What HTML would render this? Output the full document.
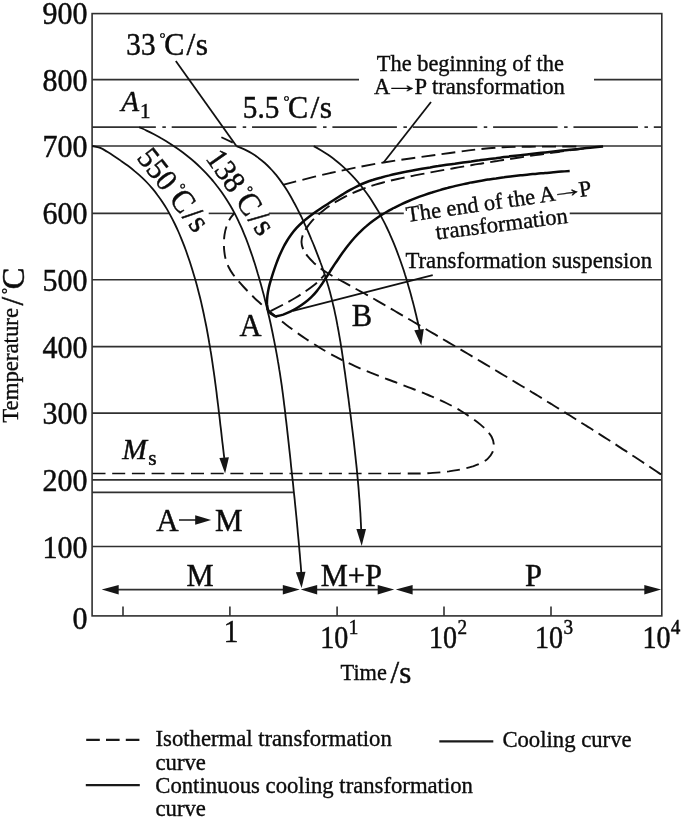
<!DOCTYPE html><html><head><meta charset="utf-8"><title>CCT diagram</title>
<style>html,body{margin:0;padding:0;background:#fff}body{width:685px;height:820px;overflow:hidden}svg{display:block;filter:blur(0.5px)}text{font-family:"Liberation Serif","Noto Serif CJK SC",serif;fill:#0c0c0c;stroke:#0c0c0c;stroke-width:0.45px}.s,.s text{stroke-width:0.36px}</style></head><body>
<svg width="685" height="820" viewBox="0 0 685 820">
<rect width="685" height="820" fill="#fff"/>
<g fill="none" stroke="#303030" stroke-width="1.6">
<rect x="92.1" y="13.6" width="569.7" height="602.3"/>
<line x1="92.1" y1="79.6" x2="359.0" y2="79.6"/>
<line x1="594.0" y1="79.6" x2="661.8" y2="79.6"/>
<line x1="92.1" y1="146.0" x2="661.8" y2="146.0"/>
<line x1="92.1" y1="213.4" x2="169.0" y2="213.4"/>
<line x1="208.7" y1="213.4" x2="234.6" y2="213.4"/>
<line x1="268.9" y1="213.4" x2="403.8" y2="213.4"/>
<line x1="569.7" y1="213.4" x2="661.8" y2="213.4"/>
<line x1="92.1" y1="279.8" x2="661.8" y2="279.8"/>
<line x1="92.1" y1="346.6" x2="661.8" y2="346.6"/>
<line x1="92.1" y1="413.1" x2="661.8" y2="413.1"/>
<line x1="92.1" y1="479.9" x2="661.8" y2="479.9"/>
<line x1="92.1" y1="546.5" x2="661.8" y2="546.5"/>
<line x1="92.1" y1="127.1" x2="661.8" y2="127.1" stroke-dasharray="64.5 6.5 3.5 5.85" stroke-dashoffset="0.75"/>
<line x1="92.1" y1="492.4" x2="293.3" y2="492.4"/>
<line x1="123.0" y1="606.5" x2="123.0" y2="615.9"/>
<line x1="229.9" y1="606.5" x2="229.9" y2="615.9"/>
<line x1="337.1" y1="606.5" x2="337.1" y2="615.9"/>
<line x1="444.0" y1="606.5" x2="444.0" y2="615.9"/>
<line x1="551.0" y1="606.5" x2="551.0" y2="615.9"/>
</g><g fill="none" stroke="#111" stroke-width="1.8">
<path d="M92.1,146.0 C93.5,146.3 97.7,147.0 100.3,147.9 C102.8,148.9 104.9,150.4 107.3,151.8 C109.6,153.2 111.9,154.7 114.2,156.2 C116.5,157.7 118.8,159.2 121.1,160.9 C123.4,162.5 125.7,164.1 128.0,165.8 C130.2,167.5 132.5,169.3 134.6,171.1 C136.8,172.9 139.0,174.7 141.0,176.6 C143.1,178.5 145.1,180.5 147.0,182.5 C148.9,184.5 150.7,186.6 152.5,188.7 C154.3,190.8 156.0,193.0 157.6,195.2 C159.3,197.4 160.9,199.7 162.4,202.0 C163.9,204.2 165.4,206.6 166.8,208.9 C168.2,211.3 169.5,213.7 170.8,216.1 C172.1,218.5 173.4,221.0 174.6,223.5 C175.8,226.0 177.0,228.5 178.1,231.0 C179.2,233.5 180.3,236.1 181.3,238.6 C182.4,241.2 183.4,243.8 184.4,246.4 C185.3,248.9 186.3,251.5 187.2,254.2 C188.1,256.8 189.0,259.4 189.9,262.0 C190.7,264.6 191.6,267.3 192.4,269.9 C193.2,272.6 194.0,275.2 194.8,277.9 C195.5,280.5 196.3,283.2 197.0,285.8 C197.7,288.5 198.4,291.2 199.1,293.9 C199.8,296.5 200.4,299.2 201.1,301.9 C201.7,304.6 202.3,307.3 202.9,310.0 C203.5,312.7 204.1,315.4 204.6,318.1 C205.2,320.9 205.7,323.6 206.3,326.3 C206.8,329.0 207.3,331.7 207.8,334.5 C208.3,337.2 208.8,339.9 209.2,342.7 C209.7,345.4 210.2,348.1 210.6,350.9 C211.1,353.6 211.5,356.4 211.9,359.1 C212.3,361.8 212.7,364.6 213.1,367.3 C213.5,370.1 213.9,372.8 214.3,375.6 C214.7,378.3 215.0,381.1 215.4,383.9 C215.8,386.6 216.1,389.4 216.5,392.1 C216.8,394.9 217.1,397.6 217.5,400.4 C217.8,403.1 218.2,405.9 218.5,408.6 C218.8,411.4 219.1,414.1 219.5,416.9 C219.8,419.6 220.1,422.4 220.4,425.1 C220.8,427.9 221.1,430.6 221.4,433.4 C221.7,436.1 222.0,438.9 222.3,441.6 C222.7,444.3 223.0,447.1 223.3,449.8 C223.6,452.5 224.1,456.6 224.3,458.0"/>
<path d="M139.2,127.1 C140.4,127.7 144.2,129.4 146.6,130.6 C149.1,131.8 151.5,133.0 154.0,134.3 C156.4,135.6 158.8,136.9 161.2,138.3 C163.6,139.6 165.9,141.1 168.2,142.5 C170.6,144.0 172.9,145.5 175.1,147.0 C177.4,148.5 179.7,150.1 181.9,151.7 C184.1,153.4 186.2,155.0 188.3,156.8 C190.5,158.5 192.5,160.2 194.6,162.0 C196.6,163.8 198.6,165.7 200.6,167.6 C202.5,169.5 204.4,171.4 206.3,173.4 C208.1,175.4 209.9,177.4 211.7,179.4 C213.4,181.5 215.2,183.6 216.8,185.7 C218.5,187.8 220.1,190.0 221.7,192.2 C223.2,194.4 224.7,196.6 226.2,198.9 C227.7,201.2 229.1,203.5 230.4,205.8 C231.8,208.2 233.1,210.5 234.4,212.9 C235.6,215.3 236.9,217.8 238.0,220.2 C239.2,222.7 240.4,225.1 241.5,227.6 C242.6,230.1 243.6,232.6 244.6,235.2 C245.7,237.7 246.7,240.3 247.6,242.8 C248.6,245.4 249.5,248.0 250.4,250.6 C251.3,253.1 252.2,255.8 253.1,258.4 C253.9,261.0 254.8,263.6 255.6,266.2 C256.4,268.8 257.2,271.5 257.9,274.1 C258.7,276.7 259.5,279.4 260.2,282.0 C261.0,284.6 261.7,287.3 262.4,289.9 C263.1,292.5 263.8,295.2 264.5,297.8 C265.1,300.5 265.8,303.1 266.4,305.8 C267.1,308.4 267.7,311.1 268.3,313.7 C269.0,316.4 269.6,319.0 270.2,321.7 C270.8,324.3 271.3,327.0 271.9,329.7 C272.5,332.3 273.0,335.0 273.5,337.6 C274.1,340.3 274.6,343.0 275.1,345.6 C275.6,348.3 276.1,351.0 276.6,353.6 C277.1,356.3 277.6,359.0 278.0,361.7 C278.5,364.3 278.9,367.0 279.3,369.7 C279.8,372.4 280.2,375.1 280.6,377.8 C281.0,380.5 281.4,383.2 281.8,385.9 C282.1,388.5 282.5,391.2 282.9,394.0 C283.2,396.7 283.6,399.4 283.9,402.1 C284.2,404.8 284.6,407.5 284.9,410.2 C285.2,412.9 285.5,415.6 285.8,418.3 C286.2,421.0 286.5,423.7 286.8,426.5 C287.1,429.2 287.4,431.9 287.7,434.6 C288.0,437.3 288.3,440.0 288.6,442.7 C288.9,445.5 289.2,448.2 289.5,450.9 C289.8,453.6 290.1,456.3 290.4,459.0 C290.7,461.7 290.9,464.4 291.2,467.2 C291.5,469.9 291.8,472.6 292.1,475.3 C292.4,478.0 292.7,480.7 293.0,483.4 C293.3,486.1 293.5,488.9 293.8,491.6 C294.1,494.3 294.4,497.0 294.7,499.7 C294.9,502.4 295.2,505.1 295.5,507.8 C295.8,510.6 296.0,513.3 296.3,516.0 C296.6,518.7 296.8,521.4 297.1,524.1 C297.3,526.8 297.6,529.6 297.8,532.3 C298.1,535.0 298.3,537.7 298.6,540.4 C298.8,543.1 299.1,545.8 299.3,548.6 C299.5,551.3 299.8,554.0 300.0,556.7 C300.2,559.4 300.4,562.1 300.7,564.8 C300.9,567.6 301.2,571.6 301.3,573.0"/>
<path d="M175.8,61 L236.4,146.1"/>
<path d="M236.4,146.1 C237.7,146.6 241.8,148.2 244.4,149.4 C246.9,150.6 249.4,151.9 251.7,153.3 C254.1,154.7 256.4,156.3 258.5,157.9 C260.7,159.5 262.8,161.2 264.8,163.0 C266.8,164.8 268.7,166.7 270.5,168.6 C272.4,170.5 274.1,172.6 275.9,174.6 C277.6,176.7 279.2,178.9 280.8,181.1 C282.4,183.3 283.9,185.5 285.4,187.8 C286.9,190.1 288.3,192.4 289.7,194.8 C291.1,197.2 292.4,199.6 293.7,202.0 C295.1,204.4 296.3,206.8 297.6,209.3 C298.8,211.8 300.1,214.2 301.3,216.7 C302.5,219.2 303.6,221.7 304.8,224.3 C305.9,226.8 307.1,229.3 308.2,231.8 C309.3,234.4 310.4,236.9 311.4,239.5 C312.5,242.0 313.6,244.5 314.6,247.1 C315.6,249.6 316.6,252.2 317.6,254.8 C318.6,257.3 319.6,259.9 320.5,262.5 C321.5,265.0 322.4,267.6 323.3,270.2 C324.1,272.8 325.0,275.4 325.8,278.0 C326.7,280.6 327.4,283.2 328.2,285.8 C329.0,288.4 329.7,291.1 330.4,293.7 C331.1,296.3 331.8,299.0 332.4,301.6 C333.0,304.3 333.7,307.0 334.3,309.6 C334.8,312.3 335.4,315.0 336.0,317.6 C336.5,320.3 337.0,323.0 337.5,325.7 C338.1,328.4 338.5,331.1 339.0,333.8 C339.5,336.5 339.9,339.2 340.4,341.9 C340.8,344.6 341.2,347.3 341.7,350.0 C342.1,352.7 342.5,355.5 342.9,358.2 C343.3,360.9 343.7,363.6 344.0,366.3 C344.4,369.1 344.8,371.8 345.2,374.5 C345.5,377.2 345.9,379.9 346.3,382.7 C346.6,385.4 347.0,388.1 347.4,390.8 C347.7,393.6 348.1,396.3 348.5,399.0 C348.8,401.7 349.2,404.5 349.5,407.2 C349.9,409.9 350.2,412.6 350.6,415.3 C350.9,418.1 351.3,420.8 351.6,423.5 C351.9,426.2 352.3,429.0 352.6,431.7 C352.9,434.4 353.3,437.1 353.6,439.9 C353.9,442.6 354.2,445.3 354.5,448.0 C354.8,450.8 355.1,453.5 355.4,456.2 C355.7,458.9 356.0,461.7 356.3,464.4 C356.6,467.1 356.9,469.8 357.1,472.6 C357.4,475.3 357.6,478.0 357.9,480.8 C358.1,483.5 358.4,486.2 358.6,488.9 C358.8,491.7 359.0,494.4 359.2,497.1 C359.5,499.9 359.7,502.6 359.8,505.3 C360.0,508.1 360.2,510.8 360.4,513.6 C360.5,516.3 360.7,519.0 360.8,521.8 C361.0,524.5 361.1,528.6 361.2,530.0"/>
<path d="M313.7,146.1 C315.0,146.8 318.8,148.9 321.3,150.4 C323.8,151.9 326.2,153.5 328.5,155.1 C330.9,156.8 333.2,158.4 335.4,160.2 C337.6,161.9 339.8,163.7 341.9,165.6 C344.0,167.5 346.0,169.4 348.0,171.3 C350.0,173.3 352.0,175.3 353.8,177.4 C355.7,179.4 357.5,181.6 359.3,183.7 C361.1,185.9 362.8,188.1 364.5,190.3 C366.2,192.5 367.8,194.8 369.4,197.1 C371.0,199.4 372.5,201.8 374.0,204.2 C375.5,206.6 377.0,209.0 378.4,211.4 C379.8,213.9 381.1,216.4 382.4,218.9 C383.8,221.4 385.0,223.9 386.3,226.5 C387.5,229.1 388.7,231.7 389.9,234.3 C391.1,236.9 392.2,239.5 393.3,242.1 C394.4,244.8 395.5,247.5 396.5,250.1 C397.5,252.8 398.5,255.5 399.5,258.2 C400.5,260.9 401.4,263.6 402.3,266.3 C403.3,269.1 404.2,271.8 405.0,274.5 C405.9,277.3 406.7,280.0 407.5,282.8 C408.3,285.5 409.1,288.3 409.9,291.0 C410.7,293.8 411.4,296.5 412.1,299.3 C412.9,302.0 413.6,304.8 414.3,307.5 C414.9,310.2 415.6,313.0 416.3,315.7 C416.9,318.5 417.6,321.2 418.2,323.9 C418.8,326.6 419.7,330.6 420.0,332.0"/>
<line x1="293" y1="310.9" x2="432.7" y2="275.2"/>
<line x1="431" y1="102" x2="383.6" y2="162.5"/>
<path d="M221.4,137.3 L232.8,142.6"/>
</g>
<polygon points="225.1,473.6 219.4,457.9 228.9,457.3" fill="#161616"/>
<polygon points="301.6,587.9 295.9,572.2 305.5,571.7" fill="#161616"/>
<polygon points="361.7,546.0 356.4,529.1 366.0,528.9" fill="#161616"/>
<polygon points="421.3,345.5 414.3,330.3 423.8,329.0" fill="#161616"/>
<g fill="none" stroke="#0a0a0a" stroke-width="2.5" stroke-linejoin="round">
<path d="M275.4,316.5 C274.3,315.7 270.4,313.8 269.0,311.8 C267.6,309.7 267.3,306.9 267.0,304.2 C266.8,301.6 267.1,298.6 267.4,295.9 C267.7,293.2 268.2,290.4 268.8,287.7 C269.4,285.0 270.2,282.3 271.0,279.7 C271.8,277.0 272.6,274.3 273.5,271.6 C274.4,269.0 275.3,266.3 276.3,263.6 C277.3,261.0 278.3,258.4 279.4,255.8 C280.5,253.2 281.7,250.7 282.9,248.2 C284.1,245.7 285.5,243.3 286.9,241.0 C288.3,238.6 289.8,236.4 291.4,234.2 C293.0,232.0 294.8,229.9 296.6,227.9 C298.4,225.9 300.4,224.0 302.4,222.2 C304.5,220.4 306.6,218.7 308.8,217.0 C311.0,215.3 313.2,213.6 315.5,212.0 C317.8,210.4 320.1,208.9 322.5,207.3 C324.8,205.8 327.2,204.3 329.5,202.7 C331.9,201.2 334.2,199.7 336.5,198.2 C338.9,196.7 341.2,195.2 343.6,193.8 C346.0,192.3 348.3,190.9 350.7,189.6 C353.1,188.3 355.6,187.0 358.0,185.8 C360.5,184.6 363.0,183.5 365.6,182.5 C368.1,181.5 370.7,180.6 373.4,179.8 C376.0,178.9 378.7,178.2 381.4,177.5 C384.0,176.7 386.7,176.0 389.4,175.4 C392.1,174.7 394.8,174.1 397.5,173.5 C400.2,172.9 402.9,172.3 405.6,171.8 C408.3,171.2 411.1,170.7 413.8,170.2 C416.5,169.7 419.2,169.2 421.9,168.7 C424.7,168.2 427.4,167.8 430.1,167.4 C432.9,166.9 435.6,166.5 438.3,166.1 C441.1,165.6 443.8,165.2 446.6,164.8 C449.3,164.4 452.0,164.0 454.8,163.7 C457.5,163.3 460.2,162.9 463.0,162.5 C465.7,162.1 468.5,161.7 471.2,161.4 C473.9,161.0 476.7,160.6 479.4,160.3 C482.2,159.9 484.9,159.6 487.7,159.2 C490.4,158.9 493.1,158.5 495.9,158.2 C498.6,157.8 501.4,157.5 504.1,157.1 C506.9,156.8 509.6,156.5 512.4,156.1 C515.1,155.8 517.8,155.5 520.6,155.2 C523.3,154.9 526.1,154.5 528.8,154.2 C531.6,153.9 534.3,153.6 537.1,153.3 C539.8,153.0 542.6,152.7 545.3,152.4 C548.1,152.1 550.8,151.8 553.6,151.5 C556.3,151.2 559.1,150.9 561.8,150.6 C564.6,150.3 567.3,150.0 570.1,149.7 C572.8,149.5 575.6,149.2 578.3,148.9 C581.1,148.6 583.8,148.3 586.6,148.0 C589.3,147.8 592.1,147.5 594.8,147.2 C597.6,146.9 601.7,146.5 603.1,146.4"/>
<path d="M275.4,316.5 C276.7,316.2 280.6,315.4 283.2,314.6 C285.8,313.7 288.3,312.6 290.8,311.4 C293.3,310.2 295.8,308.8 298.1,307.3 C300.5,305.8 302.8,304.2 305.0,302.5 C307.2,300.8 309.4,299.0 311.3,297.1 C313.3,295.2 315.1,293.2 316.8,291.1 C318.5,289.0 320.0,286.8 321.6,284.6 C323.1,282.4 324.5,280.1 326.0,277.8 C327.5,275.5 329.0,273.2 330.4,270.8 C331.9,268.5 333.4,266.2 334.9,263.9 C336.5,261.6 338.0,259.3 339.6,257.0 C341.1,254.8 342.7,252.5 344.4,250.3 C346.0,248.1 347.7,245.9 349.4,243.8 C351.1,241.6 352.9,239.5 354.7,237.5 C356.5,235.5 358.4,233.5 360.4,231.6 C362.3,229.7 364.3,227.8 366.4,226.1 C368.5,224.3 370.6,222.6 372.8,221.0 C375.0,219.4 377.2,217.8 379.5,216.3 C381.8,214.8 384.1,213.4 386.5,212.0 C388.8,210.6 391.3,209.3 393.7,208.0 C396.1,206.8 398.6,205.5 401.1,204.4 C403.6,203.2 406.1,202.1 408.7,201.0 C411.2,199.9 413.8,198.9 416.4,197.9 C418.9,196.9 421.5,196.0 424.1,195.1 C426.7,194.2 429.3,193.3 431.9,192.5 C434.5,191.6 437.2,190.8 439.8,190.1 C442.4,189.3 445.1,188.6 447.7,187.9 C450.4,187.2 453.0,186.5 455.7,185.9 C458.3,185.3 461.0,184.7 463.7,184.1 C466.3,183.5 469.0,183.0 471.7,182.4 C474.4,181.9 477.1,181.4 479.8,180.9 C482.5,180.5 485.2,180.0 487.9,179.6 C490.6,179.2 493.3,178.7 496.0,178.4 C498.7,178.0 501.4,177.6 504.1,177.3 C506.9,176.9 509.6,176.6 512.3,176.2 C515.0,175.9 517.8,175.6 520.5,175.3 C523.2,175.0 526.0,174.8 528.7,174.5 C531.4,174.2 534.2,174.0 536.9,173.7 C539.6,173.5 542.4,173.2 545.1,173.0 C547.8,172.8 550.6,172.5 553.3,172.3 C556.0,172.1 558.8,171.9 561.5,171.6 C564.2,171.4 568.3,171.1 569.7,171.0"/>
</g>
<g fill="none" stroke="#111" stroke-width="1.9" stroke-dasharray="14 6.2">
<path d="M282.9,184.8 C290.8,182.9 313.2,176.8 330.0,173.1 C346.8,169.4 363.6,165.8 383.6,162.5 C403.6,159.2 434.5,155.2 450.0,153.0 C465.5,150.8 467.6,150.4 476.4,149.5 C485.2,148.6 494.1,147.8 503.0,147.3 C511.9,146.8 516.8,146.8 530.0,146.7 C543.2,146.6 573.3,146.5 582.0,146.5"/>
<path d="M400.0,473.4 C401.4,473.4 405.4,473.5 408.1,473.5 C410.8,473.5 413.5,473.5 416.3,473.5 C419.0,473.5 421.7,473.4 424.5,473.3 C427.2,473.2 429.9,473.1 432.7,472.9 C435.4,472.7 438.1,472.5 440.8,472.3 C443.5,472.0 446.2,471.7 448.9,471.4 C451.6,471.0 454.2,470.6 456.9,470.1 C459.5,469.7 462.1,469.2 464.7,468.5 C467.4,467.9 470.0,467.2 472.7,466.4 C475.3,465.5 478.1,464.6 480.6,463.3 C483.1,462.1 485.6,460.7 487.6,458.9 C489.6,457.1 491.3,454.9 492.4,452.4 C493.4,450.0 493.9,446.9 493.8,444.4 C493.7,441.8 492.9,439.3 491.7,437.0 C490.5,434.7 488.7,432.6 486.9,430.6 C485.1,428.6 482.9,426.7 480.8,424.9 C478.7,423.1 476.4,421.4 474.2,419.8 C472.0,418.1 469.8,416.6 467.5,415.1 C465.2,413.5 462.9,412.1 460.6,410.7 C458.2,409.3 455.8,408.0 453.5,406.7 C451.1,405.4 448.7,404.2 446.2,403.0 C443.8,401.8 441.3,400.7 438.9,399.6 C436.4,398.4 433.9,397.4 431.4,396.3 C428.9,395.3 426.4,394.2 423.9,393.2 C421.4,392.2 418.8,391.2 416.3,390.2 C413.8,389.2 411.2,388.3 408.7,387.3 C406.1,386.3 403.6,385.4 401.0,384.4 C398.5,383.4 395.9,382.5 393.4,381.5 C390.8,380.6 388.3,379.6 385.7,378.6 C383.2,377.7 380.6,376.7 378.1,375.7 C375.6,374.7 373.0,373.7 370.5,372.7 C368.0,371.6 365.5,370.6 363.0,369.6 C360.5,368.5 358.0,367.4 355.5,366.3 C353.0,365.2 350.5,364.1 348.1,362.9 C345.6,361.8 343.2,360.6 340.8,359.4 C338.3,358.1 335.9,356.9 333.5,355.6 C331.2,354.3 328.8,353.0 326.4,351.6 C324.1,350.3 321.7,348.9 319.4,347.5 C317.1,346.1 314.8,344.7 312.5,343.2 C310.2,341.7 307.9,340.2 305.7,338.7 C303.4,337.2 301.2,335.7 298.9,334.1 C296.7,332.5 294.5,331.0 292.3,329.3 C290.1,327.7 288.0,326.1 285.8,324.5 C283.6,322.8 281.5,321.1 279.4,319.4 C277.2,317.8 275.1,316.0 273.0,314.3 C270.9,312.6 268.9,310.8 266.8,309.1 C264.8,307.3 262.7,305.5 260.7,303.7 C258.7,301.9 256.7,300.0 254.7,298.2 C252.8,296.3 250.8,294.4 248.9,292.4 C247.0,290.5 245.1,288.5 243.3,286.5 C241.4,284.5 239.6,282.5 237.8,280.4 C236.0,278.3 234.3,276.1 232.7,273.9 C231.2,271.7 229.7,269.4 228.6,267.0 C227.4,264.6 226.5,262.0 225.7,259.4 C225.0,256.8 224.6,254.1 224.3,251.4 C224.0,248.7 223.9,245.9 223.9,243.1 C224.0,240.4 224.1,237.5 224.5,234.8 C224.9,232.1 225.5,229.4 226.4,226.8 C227.2,224.3 228.2,221.7 229.6,219.4 C231.0,217.1 233.8,214.0 234.6,212.9" stroke-dasharray="13 6.7" stroke-dashoffset="12.0"/>
<line x1="92.1" y1="473.4" x2="400" y2="473.4" stroke-width="1.55" stroke-dasharray="13 6.7" stroke-dashoffset="-0.4"/>
<path d="M584.0,148.4 C582.7,148.6 578.6,149.1 576.0,149.5 C573.3,149.8 570.6,150.2 567.9,150.6 C565.2,150.9 562.5,151.3 559.8,151.7 C557.1,152.1 554.5,152.4 551.8,152.8 C549.1,153.2 546.4,153.6 543.7,154.0 C541.0,154.3 538.3,154.7 535.6,155.1 C532.9,155.5 530.2,155.9 527.5,156.3 C524.8,156.7 522.1,157.1 519.4,157.5 C516.7,157.9 514.0,158.3 511.3,158.8 C508.6,159.2 506.0,159.6 503.3,160.0 C500.6,160.4 497.9,160.9 495.2,161.3 C492.5,161.7 489.8,162.1 487.1,162.6 C484.4,163.0 481.7,163.5 479.0,163.9 C476.3,164.3 473.6,164.8 471.0,165.3 C468.3,165.7 465.6,166.2 462.9,166.6 C460.2,167.1 457.5,167.6 454.8,168.0 C452.2,168.5 449.5,169.0 446.8,169.4 C444.1,169.9 441.4,170.4 438.8,170.9 C436.1,171.4 433.4,171.9 430.7,172.4 C428.1,172.9 425.4,173.4 422.7,173.9 C420.1,174.4 417.4,174.9 414.7,175.4 C412.1,176.0 409.4,176.5 406.8,177.0 C404.1,177.6 401.5,178.1 398.8,178.7 C396.2,179.3 393.6,179.9 391.0,180.5 C388.3,181.2 385.7,181.8 383.1,182.5 C380.5,183.2 377.9,183.9 375.4,184.7 C372.8,185.5 370.2,186.3 367.7,187.2 C365.1,188.1 362.6,189.0 360.1,190.0 C357.6,191.0 355.1,192.0 352.6,193.1 C350.1,194.2 347.7,195.4 345.2,196.6 C342.8,197.9 340.4,199.2 338.0,200.6 C335.6,202.0 333.2,203.4 330.9,205.0 C328.6,206.6 326.2,208.2 324.0,209.9 C321.7,211.7 319.5,213.5 317.5,215.4 C315.4,217.3 313.4,219.3 311.6,221.4 C309.8,223.5 308.1,225.7 306.6,227.9 C305.2,230.2 303.7,232.5 302.9,234.9 C302.0,237.3 301.4,239.8 301.5,242.2 C301.5,244.6 302.3,247.1 303.3,249.4 C304.3,251.7 306.0,254.1 307.6,256.2 C309.3,258.4 311.3,260.4 313.3,262.3 C315.2,264.2 317.4,265.9 319.5,267.6 C321.7,269.3 324.0,270.8 326.3,272.3 C328.6,273.8 330.9,275.1 333.3,276.5 C335.7,277.9 338.1,279.2 340.6,280.5 C343.0,281.8 345.4,283.1 347.8,284.4 C350.2,285.7 352.6,287.0 355.0,288.4 C357.4,289.7 359.8,291.0 362.2,292.3 C364.6,293.7 367.0,295.0 369.3,296.3 C371.7,297.7 374.1,299.0 376.5,300.4 C378.8,301.7 381.2,303.1 383.5,304.4 C385.9,305.8 388.2,307.1 390.6,308.5 C392.9,309.9 395.3,311.2 397.6,312.6 C400.0,314.0 402.3,315.3 404.6,316.7 C407.0,318.1 409.3,319.4 411.7,320.8 C414.0,322.2 416.3,323.5 418.7,324.9 C421.0,326.3 423.4,327.6 425.7,329.0 C428.0,330.4 430.4,331.8 432.7,333.1 C435.1,334.5 437.4,335.9 439.7,337.3 C442.1,338.6 444.4,340.0 446.8,341.4 C449.1,342.8 451.4,344.1 453.8,345.5 C456.1,346.9 458.5,348.3 460.8,349.7 C463.2,351.0 465.5,352.4 467.8,353.8 C470.2,355.2 472.5,356.6 474.9,358.0 C477.2,359.4 479.5,360.7 481.9,362.1 C484.2,363.5 486.5,364.9 488.9,366.3 C491.2,367.7 493.6,369.1 495.9,370.5 C498.2,371.9 500.6,373.3 502.9,374.7 C505.2,376.1 507.6,377.5 509.9,378.9 C512.2,380.3 514.6,381.7 516.9,383.1 C519.2,384.5 521.6,385.9 523.9,387.3 C526.2,388.7 528.6,390.1 530.9,391.5 C533.2,392.9 535.5,394.4 537.9,395.8 C540.2,397.2 542.5,398.6 544.8,400.0 C547.1,401.5 549.5,402.9 551.8,404.3 C554.1,405.7 556.4,407.2 558.7,408.6 C561.1,410.0 563.4,411.5 565.7,412.9 C568.0,414.3 570.3,415.8 572.6,417.2 C574.9,418.7 577.2,420.1 579.5,421.5 C581.8,423.0 584.2,424.4 586.5,425.9 C588.8,427.3 591.1,428.8 593.4,430.2 C595.7,431.7 598.0,433.2 600.2,434.6 C602.5,436.1 604.8,437.6 607.1,439.0 C609.4,440.5 611.7,442.0 614.0,443.4 C616.3,444.9 618.6,446.4 620.8,447.9 C623.1,449.4 625.4,450.8 627.7,452.3 C629.9,453.8 632.2,455.3 634.5,456.8 C636.8,458.3 639.0,459.8 641.3,461.3 C643.6,462.8 645.8,464.3 648.1,465.8 C650.3,467.3 652.6,468.8 654.8,470.3 C657.1,471.9 660.5,474.1 661.6,474.9"/>
<path d="M270.5,311.2 C274.6,309.0 287.8,302.4 295.1,298.0 C302.4,293.6 309.5,288.8 314.5,284.8 C319.5,280.9 323.2,276.1 325.0,274.3"/>
</g>
<g stroke="#303030" stroke-width="1.7">
<line x1="110" y1="589.6" x2="292" y2="589.6"/><line x1="308" y1="589.6" x2="386" y2="589.6"/><line x1="404" y1="589.6" x2="653" y2="589.6"/>
<line x1="179" y1="520" x2="200" y2="520"/>
</g>
<polygon points="101.7,589.6 118.7,584.9 118.7,594.4" fill="#161616"/>
<polygon points="299.8,589.6 282.8,594.4 282.8,584.9" fill="#161616"/>
<polygon points="300.7,589.6 317.2,584.9 317.2,594.4" fill="#161616"/>
<polygon points="394.2,589.6 377.7,594.4 377.7,584.9" fill="#161616"/>
<polygon points="395.8,589.6 412.6,584.9 412.6,594.4" fill="#161616"/>
<polygon points="661.1,589.6 644.3,594.4 644.3,584.9" fill="#161616"/>
<polygon points="211.2,520.0 195.2,524.8 195.2,515.2" fill="#161616"/>
<text transform="translate(87.6,23.8) scale(1,1.040)" font-size="30.0" text-anchor="end">900</text>
<text transform="translate(87.6,90.6) scale(1,1.040)" font-size="30.0" text-anchor="end">800</text>
<text transform="translate(87.6,157.0) scale(1,1.040)" font-size="30.0" text-anchor="end">700</text>
<text transform="translate(87.6,224.4) scale(1,1.040)" font-size="30.0" text-anchor="end">600</text>
<text transform="translate(87.6,290.8) scale(1,1.040)" font-size="30.0" text-anchor="end">500</text>
<text transform="translate(87.6,357.6) scale(1,1.040)" font-size="30.0" text-anchor="end">400</text>
<text transform="translate(87.6,424.1) scale(1,1.040)" font-size="30.0" text-anchor="end">300</text>
<text transform="translate(87.6,490.9) scale(1,1.040)" font-size="30.0" text-anchor="end">200</text>
<text transform="translate(87.6,557.5) scale(1,1.040)" font-size="30.0" text-anchor="end">100</text>
<text transform="translate(87.6,628.7) scale(1,1.040)" font-size="30.0" text-anchor="end">0</text>
<text transform="translate(231.1,642.2) scale(1,1.055)" font-size="29.2" text-anchor="middle">1</text>
<text transform="translate(320.3,647.7) scale(0.96,1.075)" font-size="29.2">10<tspan dx="0.4" dy="-12.3" font-size="20">1</tspan></text>
<text transform="translate(429.0,647.7) scale(0.96,1.075)" font-size="29.2">10<tspan dx="0.4" dy="-12.3" font-size="20">2</tspan></text>
<text transform="translate(535.1,647.7) scale(0.96,1.075)" font-size="29.2">10<tspan dx="0.4" dy="-12.3" font-size="20">3</tspan></text>
<text transform="translate(642.4,647.7) scale(0.96,1.075)" font-size="29.2">10<tspan dx="0.4" dy="-12.3" font-size="20">4</tspan></text>
<text class="s" x="340.6" y="680.3" font-size="22.3">Time</text><text x="390.6" y="683.4" font-size="31">/s</text>
<g transform="translate(18.3,422.8) rotate(-90)"><text font-size="22.8"><tspan class="s" x="0" y="0">Temperature</tspan><tspan x="117.3" y="5" font-size="31">/</tspan><tspan x="128.8" y="-6.4" font-size="15">°</tspan><tspan x="133.5" y="5.3" font-size="32.5">C</tspan></text></g>
<g transform="translate(126.3,55.0)"><text transform="scale(1,1.055)" font-size="29.2" x="0" y="0">33</text><text x="33.3" y="-11.7" font-size="15">°</text><text transform="translate(38.0,0.3) scale(0.93,1)" font-size="32.5">C</text><text x="60.3" y="0.3" font-size="31.5">/<tspan dx="0.5">s</tspan></text></g>
<g transform="translate(242.8,117.9)"><text transform="scale(1,1.055)" font-size="29.2" x="0" y="0">5.5</text><text x="40.6" y="-11.7" font-size="15">°</text><text transform="translate(45.3,0.3) scale(0.93,1)" font-size="32.5">C</text><text x="67.6" y="0.3" font-size="31.5">/<tspan dx="0.5">s</tspan></text></g>
<text font-size="29.2"><tspan x="121.3" y="111.1" font-style="italic">A</tspan><tspan x="140" y="117.6" font-size="21">1</tspan></text>
<text font-size="29.6"><tspan x="122.2" y="458.5" font-style="italic">M</tspan><tspan x="148.2" y="465.3" font-size="21.5">s</tspan></text>
<g transform="translate(136.0,157.9) rotate(52)"><text transform="scale(1,1.055)" font-size="29.2" x="0" y="0">550</text><text x="47.9" y="-11.7" font-size="15">°</text><text transform="translate(52.6,0.3) scale(0.93,1)" font-size="32.5">C</text><text x="74.9" y="0.3" font-size="31.5">/<tspan dx="0.5">s</tspan></text></g>
<g transform="translate(205.1,158.2) rotate(55.2)"><text transform="scale(1,1.055)" font-size="29.2" x="0" y="0">138</text><text x="47.9" y="-11.7" font-size="15">°</text><text transform="translate(52.6,0.3) scale(0.93,1)" font-size="32.5">C</text><text x="74.9" y="0.3" font-size="31.5">/<tspan dx="0.5">s</tspan></text></g>
<text x="239.5" y="335.6" font-size="30.5" text-anchor="start" >A</text>
<text x="351.8" y="326.0" font-size="30.5" text-anchor="start" >B</text>
<text x="156.3" y="531.3" font-size="31.0" text-anchor="start" >A</text>
<text x="215.0" y="531.3" font-size="31.0" text-anchor="start" >M</text>
<text x="186.5" y="586.3" font-size="30.5" text-anchor="start" >M</text>
<text x="320.7" y="586.3" font-size="30.5" text-anchor="start" >M+P</text>
<text x="525.1" y="586.3" font-size="30.5" text-anchor="start" >P</text>
<g class="s">
<text x="376.8" y="71.3" font-size="22.4" text-anchor="start" >The beginning of the</text>
<text x="373.9" y="93.8" font-size="22.4" text-anchor="start" >A</text>
<text transform="translate(384.3,91.8) scale(1.58,1)" font-size="22.4" x="0" y="0">→</text>
<text x="414.5" y="93.8" font-size="22.6" text-anchor="start" >P transformation</text>
<g transform="translate(407.3,222) rotate(-8.2)"><text x="0" y="0" font-size="22.4">The end of the A</text><text transform="translate(145.6,-2.0) scale(1.50,1)" font-size="22.4" x="0" y="0">→</text><text x="174.5" y="0" font-size="22.4">P</text></g>
<text transform="translate(436.5,239.6) rotate(-7.3)" font-size="22.6">transformation</text>
<text x="405.4" y="267.9" font-size="22.8" text-anchor="start" >Transformation suspension</text>
<g stroke="#1a1a1a" stroke-width="2.4">
<line x1="86.2" y1="739.9" x2="139.8" y2="739.9" stroke-dasharray="13.6 6.2"/><line x1="85.8" y1="785.1" x2="139.8" y2="785.1"/><line x1="439.3" y1="741.4" x2="493.3" y2="741.4"/>
</g>
<text x="155.5" y="746.3" font-size="22.7" text-anchor="start" >Isothermal transformation</text>
<text x="155.5" y="770.0" font-size="22.7" text-anchor="start" >curve</text>
<text x="155.3" y="792.7" font-size="22.7" text-anchor="start" >Continuous cooling transformation</text>
<text x="155.5" y="815.9" font-size="22.7" text-anchor="start" >curve</text>
<text x="502.4" y="747.2" font-size="22.7" text-anchor="start" >Cooling curve</text>
</g>
</svg></body></html>
